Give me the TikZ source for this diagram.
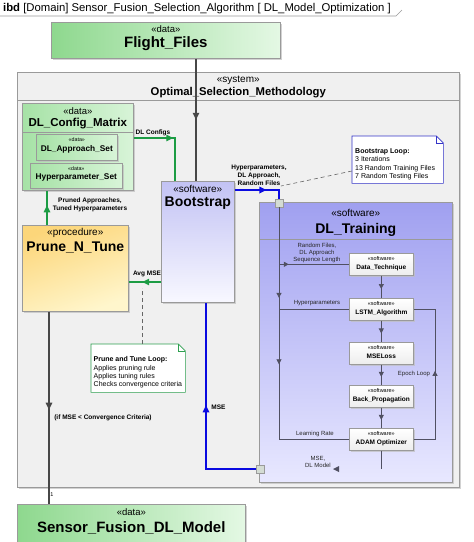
\documentclass[tikz,border=0pt]{standalone}
\usepackage{fontspec}
\setmainfont{Liberation Sans}
\usetikzlibrary{arrows.meta,shadows,decorations.markings,calc}
\definecolor{boxgray}{HTML}{9A9A9A}
\definecolor{sysfill}{HTML}{F0F0F0}
\definecolor{grnA}{HTML}{8ED88E}
\definecolor{grnB}{HTML}{E4F8E4}
\definecolor{grnC}{HTML}{A6E2A6}
\definecolor{grnD}{HTML}{D8F4D8}
\definecolor{lavA}{HTML}{C2C2F4}
\definecolor{lavB}{HTML}{F8F8FF}
\definecolor{dltA}{HTML}{A0A0F0}
\definecolor{dltB}{HTML}{E8E8FF}
\definecolor{yelA}{HTML}{FCD67A}
\definecolor{yelB}{HTML}{FFF6CC}
\definecolor{grnline}{HTML}{1C9C44}
\definecolor{blueline}{HTML}{0A0AE0}
\definecolor{darkline}{HTML}{474747}
\definecolor{inline}{HTML}{505062}
\definecolor{noteblue}{HTML}{3434C8}
\definecolor{notegreen}{HTML}{2EA050}
\definecolor{portfill}{HTML}{D4DCD4}
\newcommand\fsz[1]{\fontsize{#1}{#1}\selectfont}
\begin{document}
\begin{tikzpicture}[
  x=1pt, y=-1pt,
  box/.style={draw=boxgray, line width=0.6pt, inner sep=0pt, anchor=north west,
    drop shadow={shadow xshift=1.5pt, shadow yshift=-1.5pt, fill=black!25, opacity=0.7}},
  greenbox/.style={box, left color=grnA, right color=grnB},
  lgreenbox/.style={box, left color=grnC, right color=grnD},
  lavbox/.style={box, top color=lavA, bottom color=lavB},
  dltbox/.style={box, top color=dltA, bottom color=dltB},
  yelbox/.style={box, top color=yelA, bottom color=yelB},
  sysbox/.style={box, fill=sysfill},
  smallbox/.style={box, minimum width=64pt, minimum height=22pt, top color=white, bottom color=black!7},
  port/.style={draw=boxgray, fill=portfill, minimum size=8pt, inner sep=0pt, line width=0.5pt},
  txt/.style={inner sep=0pt},
  marrow/.style={postaction={decorate}, decoration={markings,
    mark=at position #1 with {\arrow{Triangle[length=7pt,width=6.5pt]}}}},
  smarrow/.style={postaction={decorate}, decoration={markings,
    mark=at position #1 with {\arrow{Triangle[length=5pt,width=5pt]}}}},
  smarrowtwo/.style 2 args={postaction={decorate}, decoration={markings,
    mark=at position #1 with {\arrow{Triangle[length=5pt,width=5pt]}},
    mark=at position #2 with {\arrow{Triangle[length=5pt,width=5pt]}}}},
  grayln/.style={draw=darkline, line width=1.4pt},
  grnln/.style={draw=grnline, line width=1.4pt},
  bluln/.style={draw=blueline, line width=1.6pt},
  inln/.style={draw=inline, line width=0.7pt},
  lbl/.style={inner sep=0pt, font=\fontsize{6.5}{8}\selectfont\bfseries, align=center},
  ilbl/.style={inner sep=0pt, font=\fontsize{6}{7}\selectfont, align=center, text=black!85},
  notetxt/.style={inner sep=0pt, anchor=north west, align=left, font=\fontsize{7}{8.4}\selectfont},
  notedash/.style={draw=black!60, line width=0.6pt, dash pattern=on 4pt off 3pt}
]
\useasboundingbox (0,0) rectangle (474,542);
\fill[white] (0,0) rectangle (474,542);

% title tab
\node[txt, anchor=west, font=\fsz{11.3}] (title) at (3,8.5) {\textbf{ibd} [Domain] Sensor\_Fusion\_Selection\_Algorithm [ DL\_Model\_Optimization ]};
\draw[boxgray, line width=0.6pt] (0,16) -- (396,16) -- (402,10);

% system
\node[sysbox, minimum width=442pt, minimum height=415pt] (sys) at (17,72) {};
\draw[boxgray, line width=0.6pt] ($(sys.north west)+(0,28)$) -- ($(sys.north east)+(0,28)$);
\node[txt, font=\fsz{10}] (syss) at ($(sys.north)+(0,8)$) {«system»};
\node[txt, font=\fsz{11.3}\bfseries] (sysn) at ($(sys.north)+(0,21)$) {Optimal\_Selection\_Methodology};

% Flight files
\node[greenbox, minimum width=229pt, minimum height=36pt] (ff) at (51,22) {};
\node[txt, font=\fsz{9.5}] (ffs) at ($(ff.north)+(0,7)$) {«data»};
\node[txt, font=\fsz{15}\bfseries] (ffn) at ($(ff.north)+(0,22)$) {Flight\_Files};

% DL config matrix
\node[lgreenbox, minimum width=111pt, minimum height=87pt] (dlcm) at (22,103) {};
\draw[boxgray, line width=0.6pt] ($(dlcm.north west)+(0,29)$) -- ($(dlcm.north east)+(0,29)$);
\node[txt, font=\fsz{9.5}] (dlcms) at ($(dlcm.north)+(0,8)$) {«data»};
\node[txt, font=\fsz{11.5}\bfseries] (dlcmn) at ($(dlcm.north)+(0,21)$) {DL\_Config\_Matrix};
\node[lgreenbox, minimum width=81pt, minimum height=26pt] (das) at (36,134) {};
\node[txt, font=\fsz{5.3}] (dass) at ($(das.north)+(0,5.5)$) {«data»};
\node[txt, font=\fsz{8.3}\bfseries] (dasn) at ($(das.north)+(0,15.5)$) {DL\_Approach\_Set};
\node[lgreenbox, minimum width=92pt, minimum height=25pt] (hps) at (30,163) {};
\node[txt, font=\fsz{5.3}] (hpss) at ($(hps.north)+(0,5.5)$) {«data»};
\node[txt, font=\fsz{8.3}\bfseries] (hpsn) at ($(hps.north)+(0,14.5)$) {Hyperparameter\_Set};

% Bootstrap
\node[lavbox, minimum width=73pt, minimum height=121pt] (bs) at (161,181) {};
\node[txt, font=\fsz{10}] (bss) at ($(bs.north)+(0,7.5)$) {«software»};
\node[txt, font=\fsz{14}\bfseries] (bsn) at ($(bs.north)+(0,22)$) {Bootstrap};

% Prune N Tune
\node[yelbox, minimum width=106pt, minimum height=86pt, shading angle=20] (pnt) at (22,225) {};
\node[txt, font=\fsz{10}] (pnts) at ($(pnt.north)+(0,8)$) {«procedure»};
\node[txt, font=\fsz{14}\bfseries] (pntn) at ($(pnt.north)+(0,23)$) {Prune\_N\_Tune};

% DL Training
\node[dltbox, minimum width=193pt, minimum height=280pt] (dlt) at (259,202) {};
\draw[boxgray, line width=0.6pt] ($(dlt.north west)+(0,37)$) -- ($(dlt.north east)+(0,37)$);
\node[txt, font=\fsz{10}] (dlts) at ($(dlt.north)+(0,11)$) {«software»};
\node[txt, font=\fsz{14}\bfseries] (dltn) at ($(dlt.north)+(0,27.5)$) {DL\_Training};

\node[smallbox] (dt) at (349,253) {};
\node[smallbox] (lstm) at (349,298) {};
\node[smallbox] (mse) at (349,342) {};
\node[smallbox] (bp) at (349,385) {};
\node[smallbox] (adam) at (349,428) {};
\foreach \b/\n in {dt/Data\_Technique, lstm/LSTM\_Algorithm, mse/MSELoss, bp/Back\_Propagation, adam/ADAM Optimizer}{
  \node[txt, font=\fsz{5.5}] (\b s) at ($(\b.north)+(0,5.5)$) {«software»};
  \node[txt, font=\fsz{6.5}\bfseries] (\b n) at ($(\b.north)+(0,14.5)$) {\n};
}

% Sensor fusion model
\node[greenbox, minimum width=228pt, minimum height=42pt] (sfdm) at (17,504) {};
\node[txt, font=\fsz{9.5}] (sfdms) at ($(sfdm.north)+(0,8)$) {«data»};
\node[txt, font=\fsz{15}\bfseries] (sfdmn) at ($(sfdm.north)+(0,23.5)$) {Sensor\_Fusion\_DL\_Model};

% ports
\node[port] (p1) at (279,203) {};
\node[port] (p2) at (260,469) {};

% helper coordinates
\coordinate (x196) at (196,0);
\coordinate (x175) at (175,0);
\coordinate (y138) at (0,138);
\coordinate (y190) at (0,190);
\coordinate (x206) at (206,0);
\coordinate (y282) at (0,282);
\coordinate (x47) at (47,0);
\coordinate (x49) at (49,0);
\coordinate (x435) at (435,0);
\coordinate (x142) at (142,0);
\coordinate (y171) at (0,171);
\coordinate (y288) at (0,288);
\coordinate (bsanch) at (281,186);
\coordinate (msetip) at (333,469);

% outer connectors
\draw[grayln, marrow=0.5] (ff.south -| x196) -- (bs.north -| x196);
\draw[grnln, marrow=0.47] (dlcm.east |- y138) -| (bs.north -| x175);
\draw[bluln, marrow=0.6] (bs.east |- y190) -| (p1.north);
\draw[bluln, marrow=0.525] (p2.west) -| (bs.south -| x206);
\draw[grnln, marrow=0.58] (bs.west |- y282) -- (pnt.east |- y282);
\draw[grnln, marrow=0.57] (pnt.north -| x47) -- (dlcm.south -| x47);
\draw[grayln, marrow=0.51] (pnt.south -| x49) -- (sfdm.north -| x49);

% inner connectors
\draw[inln, smarrowtwo={0.3}{0.52}] (p1.south) |- (adam.west);
\draw[inln, smarrow=0.14] (dt.west -| p1) -- (dt.west);
\draw[inln] (lstm.west -| p1) -- (lstm.west);
\draw[inln, smarrow=0.6] (dt.south) -- (lstm.north);
\draw[inln, smarrow=0.6] (lstm.south) -- (mse.north);
\draw[inln, smarrow=0.6] (mse.south) -- (bp.north);
\draw[inln, smarrow=0.6] (bp.south) -- (adam.north);
\draw[inln, smarrow=0.52] (adam.east) -- (adam.east -| x435) -- (lstm.east -| x435) -- (lstm.east);
\draw[inln] (adam.south) -- (adam.south |- p2);
\fill[inline] (msetip) -- ++(6,-3) -- ++(0,6) -- cycle;

% notes
\node[inner sep=0pt, anchor=north west, minimum width=91pt, minimum height=47pt] (bnote) at (352,136) {};
\draw[noteblue, fill=white, line width=0.6pt] (bnote.north west) -- ($(bnote.north east)+(-7,0)$) -- ($(bnote.north east)+(0,7)$) -- (bnote.south east) -- (bnote.south west) -- cycle;
\draw[noteblue, line width=0.6pt] ($(bnote.north east)+(-7,0)$) -- ($(bnote.north east)+(-7,7)$) -- ($(bnote.north east)+(0,7)$);
\node[notetxt] (bnotet) at (355,148.5) {\textbf{Bootstrap Loop:}\\3 Iterations\\13 Random Training Files\\7 Random Testing Files};
\draw[notedash] (bnote.west |- y171) -- (bsanch);

\node[inner sep=0pt, anchor=north west, minimum width=94pt, minimum height=48pt] (pnote) at (91,344) {};
\draw[notegreen, fill=white, line width=0.6pt] (pnote.north west) -- ($(pnote.north east)+(-7,0)$) -- ($(pnote.north east)+(0,7)$) -- (pnote.south east) -- (pnote.south west) -- cycle;
\draw[notegreen, line width=0.6pt] ($(pnote.north east)+(-7,0)$) -- ($(pnote.north east)+(-7,7)$) -- ($(pnote.north east)+(0,7)$);
\node[notetxt] (pnotet) at (93.5,356.5) {\textbf{Prune and Tune Loop:}\\Applies pruning rule\\Applies tuning rules\\Checks convergence criteria};
\draw[notedash] (pnote.north -| x142) -- (x142 |- y288);

% labels
\node[lbl] (lcfg) at (153,133) {DL Configs};
\node[lbl] (lhyp) at (259,175) {Hyperparameters,\\DL Approach,\\Random Files};
\node[lbl] (lpru) at (90,205) {Pruned Approaches,\\Tuned Hyperparameters};
\node[lbl] (lavg) at (147,273.5) {Avg MSE};
\node[lbl] (lmse) at (218.5,407) {MSE};
\node[lbl] (lconv) at (103,418) {(if MSE < Convergence Criteria)};
\node[txt, font=\fsz{5.5}] (lone) at (52,495) {1};
\node[ilbl] (lrf) at (317,253) {Random Files,\\DL Approach\\Sequence Length};
\node[ilbl] (lhp) at (317,303) {Hyperparameters};
\node[ilbl] (lep) at (414,374) {Epoch Loop};
\node[ilbl] (llr) at (315,433.5) {Learning Rate};
\node[ilbl] (lmd) at (318,461.5) {MSE,\\DL Model};
\end{tikzpicture}
\end{document}
